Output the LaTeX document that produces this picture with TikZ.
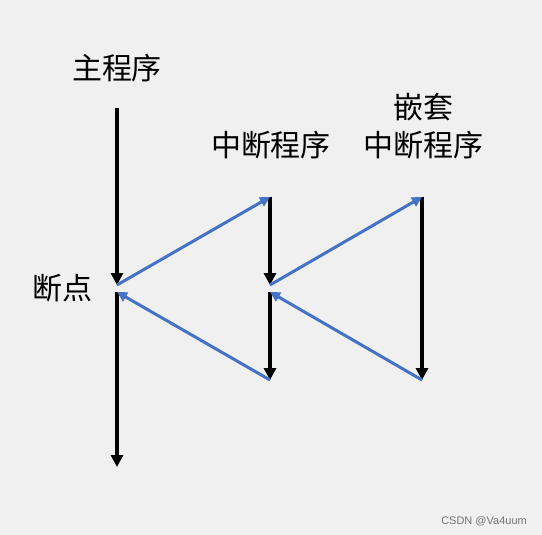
\documentclass[tikz,border=0pt]{standalone}
\usepackage{fontspec}
\newfontfamily\cjk{Noto Sans CJK SC}
\newfontfamily\wmfont{Liberation Sans}
\usetikzlibrary{arrows.meta}
\definecolor{bg}{HTML}{F0F0F0}
\definecolor{link}{HTML}{4472C4}

\begin{document}
\begin{tikzpicture}[x=1pt,y=-1pt,
    flow/.style={line width=3.4pt, -{Triangle[length=12pt,width=12pt]}},
    jump/.style={link, line width=3pt, -{Triangle[length=10pt,width=10pt]}},
    lbl/.style={font=\cjk\fontsize{30}{38}\selectfont, inner sep=0pt, align=center}]
  % Background
  \fill[bg] (0,0) rectangle (542,535);
  \useasboundingbox (0,0) rectangle (542,535);

  % Points on the three lines
  \coordinate (m0) at (117,108);
  \coordinate (m1) at (117,285);
  \coordinate (m2) at (117,292);
  \coordinate (m3) at (117,467);
  \coordinate (a0) at (270,197);
  \coordinate (a1) at (270,285);
  \coordinate (a2) at (270,292);
  \coordinate (a3) at (270,380);
  \coordinate (b0) at (422,197);
  \coordinate (b1) at (422,380);

  % Draw the labels
  \node[lbl] (main) at (117,68) {主程序};
  \node[lbl] (isr) at (271,145) {中断程序};
  \node[lbl] (nest) at (423,126) {嵌套\\中断程序};
  \node[lbl] (brk) at (63,288) {断点};

  % Draw the black lines
  \draw[flow] (m0) -- (m1);
  \draw[flow] (m2) -- (m3);
  \draw[flow] (a0) -- (a1);
  \draw[flow] (a2) -- (a3);
  \draw[flow] (b0) -- (b1);

  % Draw the blue jumps
  \draw[jump] (m1) -- (a0);
  \draw[jump] (a3) -- (m2);
  \draw[jump] (a1) -- (b0);
  \draw[jump] (b1) -- (a2);

  \node[font=\wmfont\fontsize{11}{13}\selectfont, text=black!55, anchor=east, inner sep=0pt] (wm) at (527,521) {CSDN @Va4uum};
\end{tikzpicture}
\end{document}
